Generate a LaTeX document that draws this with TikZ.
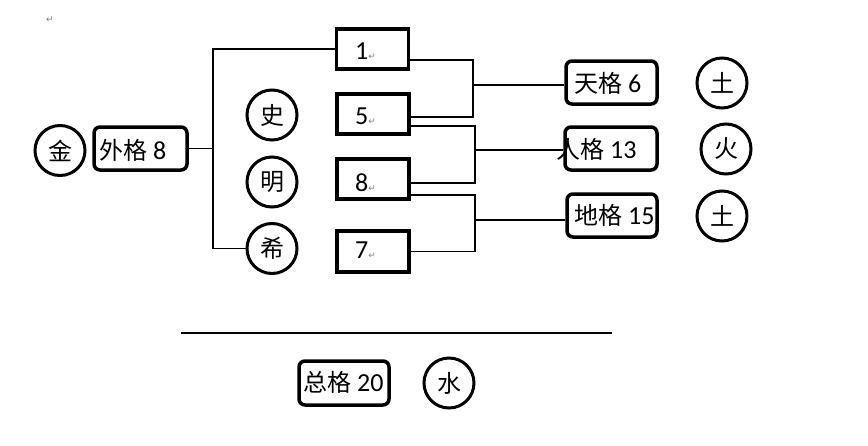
\documentclass[tikz,border=0pt]{standalone}
\usepackage{fontspec}
\setmainfont{Carlito}
\newfontfamily\cjk{Noto Sans CJK SC}
\newfontfamily\dejavu{DejaVu Sans}
\usetikzlibrary{calc}
\newcommand{\retmark}{{\dejavu\fontsize{9}{9}\selectfont\textcolor{gray}{↵}}}
\newcommand{\cj}[1]{{\cjk\fontsize{24}{24}\selectfont #1}}
\begin{document}
\begin{tikzpicture}[x=1pt,y=-1pt,
  circ/.style={circle, draw, line width=3pt, minimum size=50pt, inner sep=0pt, font=\cjk\fontsize{24}{24}\selectfont},
  rbox/.style={draw, line width=3.5pt, rounded corners=6pt, inner sep=0pt},
  sbox/.style={draw, line width=3.5pt, inner sep=0pt, minimum width=72pt, minimum height=40pt},
  conn/.style={line width=1.6pt},
  lbl/.style={anchor=west, inner sep=0pt, font=\fontsize{26}{26}\selectfont},
  num/.style={anchor=west, inner sep=0pt, font=\fontsize{26}{26}\selectfont},
  ret/.style={font=\dejavu\fontsize{9}{9}\selectfont, text=gray, inner sep=0pt}]
\useasboundingbox (0,0) rectangle (868,445);

\node[ret] (pm) at (50,20) {↵};

% left
\node[circ] (jin) at (60,150.5) {金};
\node[rbox, minimum width=93pt, minimum height=43pt] (wai) at (140.5,148.5) {};
\node[lbl] (twai) at (99,150) {\cj{外格} 8};

% name characters
\node[circ] (shi) at (272,115) {史};
\node[circ] (ming) at (272,182) {明};
\node[circ] (xi) at (272,248.5) {希};

% number boxes
\node[sbox] (b1) at (372.5,49) {};
\node[sbox] (b5) at (373,114) {};
\node[sbox] (b8) at (373,179) {};
\node[sbox, minimum height=41pt] (b7) at (373,251.5) {};
\node[num] (n1) at (355,51) {1\retmark};
\node[num] (n5) at (355,116) {5\retmark};
\node[num] (n8) at (355,183) {8\retmark};
\node[num] (n7) at (355,250) {7\retmark};

% right boxes
\node[rbox, minimum width=91pt, minimum height=43pt] (tian) at (611.5,82.5) {};
\node[rbox, minimum width=92pt, minimum height=43pt] (ren) at (611,148.5) {};
\node[rbox, minimum width=90pt, minimum height=43pt] (di) at (612,215.5) {};
\node[lbl] (ttian) at (574,83) {\cj{天格} 6};
\node[lbl] (tren) at (556,149) {\cj{人格} 13};
\node[lbl] (tdi) at (574,215) {\cj{地格} 15};

\node[circ] (tu1) at (722,83) {土};
\node[circ] (huo) at (726,149) {火};
\node[circ] (tu2) at (722,216) {土};

% bottom
\coordinate (hl) at (181,333);
\coordinate (hr) at (612,333);
\draw[conn] (hl) -- (hr);
\node[rbox, minimum width=90pt, minimum height=44pt] (zong) at (344,383) {};
\node[lbl] (tzong) at (303,382) {\cj{总格} 20};
\node[circ] (shui) at (449,383) {水};

% left spine
\coordinate (sp) at (213,0);
\draw[conn] (wai.east) -- (wai.east -| sp);
\draw[conn] (b1.west) -- (b1.west -| sp) -- (xi.west -| sp) -- (xi.west);

% right brackets
\coordinate (bxa) at (473,0);
\coordinate (bxb) at (475,0);
\coordinate (r1) at ($(b1.east)+(0,11)$);
\coordinate (r5a) at ($(b5.east)+(0,3)$);
\coordinate (r5b) at ($(b5.east)+(0,12)$);
\coordinate (r8a) at ($(b8.east)+(0,4)$);
\coordinate (r8b) at ($(b8.east)+(0,16)$);
\coordinate (r7) at (b7.east);
\draw[conn] (r1) -- (r1 -| bxa) -- (r5a -| bxa) -- (r5a);
\draw[conn] (r5b) -- (r5b -| bxb) -- (r8a -| bxb) -- (r8a);
\draw[conn] (r8b) -- (r8b -| bxb) -- (r7 -| bxb) -- (r7);
\coordinate (m1) at (473,85);
\coordinate (m2) at (475,150);
\coordinate (m3) at (475,220);
\draw[conn] (m1) -- (m1 -| tian.west);
\draw[conn] (m2) -- (m2 -| ren.west);
\draw[conn] (m3) -- (m3 -| di.west);
\end{tikzpicture}
\end{document}
